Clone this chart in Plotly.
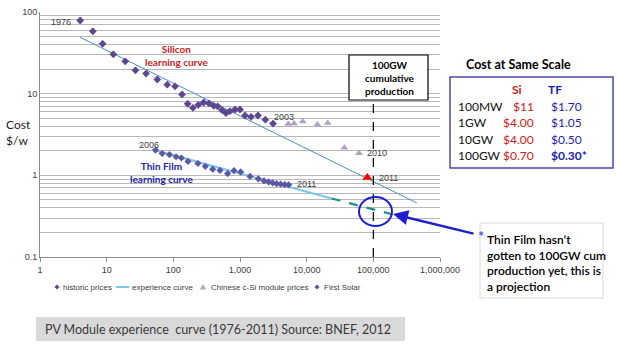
import plotly.graph_objects as go

# ---------------- data ----------------
si_x = [4, 6.2, 8.7, 12.6, 19, 27, 39, 57.5, 81, 106, 135, 164, 197, 237, 285, 343,
        403, 462, 537, 617, 708, 841, 1000, 1189, 1462, 1862, 2400, 3130]
si_y = [78.7, 58, 40.8, 30.3, 24.9, 19.3, 17.6, 14.9, 12.9, 12.3, 9.8, 7.5, 6.7, 7.3,
        7.8, 7.6, 7.1, 7.0, 6.3, 5.8, 6.1, 6.4, 6.4, 5.4, 5.2, 5.4, 4.8, 4.3]

si_curve_x = [4, 447000]
si_curve_y = [49, 0.46]

cn_x = [5300, 6460, 8710, 14500, 20650, 36700, 61000]
cn_y = [4.25, 4.3, 4.57, 4.2, 4.37, 2.17, 1.87]

cn2011_x = [81300]
cn2011_y = [0.94]

fs_x = [54, 68, 87.5, 110, 132, 166, 234, 302, 389, 501, 653, 813, 1023, 1413, 1884,
        2290, 2690, 3090, 3550, 4070, 4680, 5370]
fs_y = [2.04, 1.85, 1.79, 1.69, 1.63, 1.48, 1.40, 1.29, 1.19, 1.15, 1.05, 1.14, 1.10,
        0.97, 0.905, 0.857, 0.83, 0.81, 0.79, 0.78, 0.77, 0.765]

tf_curve_x = [54, 23700]
tf_curve_y = [2.02, 0.52]
tf_proj_x = [23700, 190000]
tf_proj_y = [0.52, 0.334]

scale_marker_x = 100000  # 100GW cumulative production

x_ticks = [1, 10, 100, 1000, 10000, 100000, 1000000]
x_ticktext = ["1", "10", "100", "1,000", "10,000", "100,000", "1,000,000"]
y_decades = [0.1, 1, 10, 100]
y_decade_text = ["0.1", "1", "10", "100"]

table_scale = ["100MW", "1GW", "10GW", "100GW"]
table_si = ["$11", "$4.00", "$4.00", "$0.70"]
table_tf = ["$1.70", "$1.05", "$0.50", "<b>$0.30*</b>"]

# ---------------- layout geometry ----------------
W, H = 618, 352
L, R, T, B = 40, 440, 12, 257


def px(x):
    return (x - L) / (R - L)


def py(y):
    return (B - y) / (B - T)


# grid values: all 1..9 per decade
y_grid = []
y_gridtext = []
for d in [0.1, 1, 10]:
    for k in range(1, 10):
        v = round(d * k, 6)
        y_grid.append(v)
        y_gridtext.append(y_decade_text[y_decades.index(v)] if v in y_decades else "")
y_grid.append(100)
y_gridtext.append("100")

PURPLE = "#5e4790"
FS_COL = "#5b58a6"
TRI = "#b3a2c7"
LINE_BLUE = "#4a90c0"
TF_LIGHT = "#7cc8e8"
TF_DASH = "#1f8f8a"
RED = "#cc1a1a"
BLUE = "#2323a8"
GRAY_TXT = "#404040"

fig = go.Figure()

fig.add_trace(go.Scatter(x=si_curve_x, y=si_curve_y, mode="lines",
                         line=dict(color=LINE_BLUE, width=1), showlegend=False))
fig.add_trace(go.Scatter(x=tf_curve_x, y=tf_curve_y, mode="lines",
                         line=dict(color=TF_LIGHT, width=2.2), showlegend=False))
fig.add_trace(go.Scatter(x=tf_proj_x, y=tf_proj_y, mode="lines",
                         line=dict(color=TF_DASH, width=2.2, dash="dash"), showlegend=False))
fig.add_trace(go.Scatter(x=si_x, y=si_y, mode="markers",
                         marker=dict(symbol="diamond", size=6, color=PURPLE),
                         showlegend=False))
fig.add_trace(go.Scatter(x=cn_x, y=cn_y, mode="markers",
                         marker=dict(symbol="triangle-up", size=7, color=TRI),
                         showlegend=False))
fig.add_trace(go.Scatter(x=cn2011_x, y=cn2011_y, mode="markers",
                         marker=dict(symbol="triangle-up", size=9, color="#ff0000"),
                         showlegend=False))
fig.add_trace(go.Scatter(x=fs_x, y=fs_y, mode="markers",
                         marker=dict(symbol="diamond", size=5.5, color=FS_COL),
                         showlegend=False))

shapes = []
annotations = []


def text(xp, yp, s, font, xanchor="center", yanchor="middle", align="center"):
    annotations.append(dict(xref="paper", yref="paper", x=px(xp), y=py(yp), text=s,
                            showarrow=False, font=font, xanchor=xanchor,
                            yanchor=yanchor, align=align))


# 100GW vertical dashed line
shapes.append(dict(type="line", xref="x", yref="paper", x0=scale_marker_x,
                   x1=scale_marker_x, y0=0, y1=py(100),
                   line=dict(color="black", width=1.2, dash="dash"), layer="above"))
# 100GW box
shapes.append(dict(type="rect", xref="paper", yref="paper", x0=px(349), x1=px(428),
                   y0=py(100), y1=py(55), fillcolor="white",
                   line=dict(color="black", width=1.2), layer="above"))
text(390, 78, "<b>100GW<br>cumulative<br>production</b>",
     dict(family="Lato", size=10, color="black"))

# blue circle + arrow
shapes.append(dict(type="circle", xref="paper", yref="paper", x0=px(359), x1=px(392),
                   y0=py(226), y1=py(197), line=dict(color="#1f1fd0", width=2),
                   layer="above"))
annotations.append(dict(xref="paper", yref="paper", x=px(393), y=py(214), text="",
                        showarrow=True, ax=82, ay=20, arrowhead=2, arrowsize=1.2,
                        arrowwidth=2.5, arrowcolor="#1f1fd0"))

# note box
shapes.append(dict(type="rect", xref="paper", yref="paper", x0=px(480), x1=px(603),
                   y0=py(298), y1=py(223), fillcolor="white",
                   line=dict(color="#d8d8d8", width=1)))
text(476, 236, "*", dict(family="Lato", size=15, color="#1f1fd0"), xanchor="left")
text(485, 263, "Thin Film hasn’t<br>gotten to 100GW cum<br>production yet, this is<br>a projection",
     dict(family="Lato", size=12, color="#000000", weight=600), xanchor="left", align="left")

# curve labels
text(176, 55, "<b>Silicon<br>learning curve</b>", dict(family="Lato", size=10, color=RED))
text(161, 172, "<b>Thin Film<br>learning curve</b>", dict(family="Lato", size=10, color=BLUE))

# year labels
for s, pos in [("1976", (61, 22)), ("2006", (149, 145)), ("2003", (284, 117)),
               ("2010", (377, 153)), ("2011", (388, 178)), ("2011", (306, 184))]:
    text(pos[0], pos[1], s, dict(family="Liberation Sans", size=9, color=GRAY_TXT))

# y axis title
text(4, 132, "Cost<br>$/w", dict(family="Lato", size=12, color="#222222"),
     xanchor="left", align="left")

# table
text(518, 64, "<b>Cost at Same Scale</b>", dict(family="Lato", size=12.5, color="black"))
shapes.append(dict(type="rect", xref="paper", yref="paper", x0=px(450), x1=px(613),
                   y0=py(168), y1=py(77), line=dict(color="#4a4aa8", width=1.5)))
text(517, 89, "<b>Si</b>", dict(family="Lato", size=12, color=RED))
text(555, 89, "<b>TF</b>", dict(family="Lato", size=12, color=BLUE))
row_y = [106, 122, 139, 155]
for i in range(4):
    text(456, row_y[i], table_scale[i], dict(family="Lato", size=12, color="#111111"),
         xanchor="left")
    text(536, row_y[i], table_si[i], dict(family="Lato", size=12, color=RED),
         xanchor="right")
    text(549, row_y[i], table_tf[i], dict(family="Lato", size=12, color=BLUE),
         xanchor="left")

# custom legend
LEG_Y = 287
leg_font = dict(family="Liberation Sans", size=8, color=GRAY_TXT)


def diamond(cx, cy, r, color):
    p = (f"M {px(cx)} {py(cy - r)} L {px(cx + r)} {py(cy)} L {px(cx)} {py(cy + r)} "
         f"L {px(cx - r)} {py(cy)} Z")
    return dict(type="path", xref="paper", yref="paper", path=p, fillcolor=color,
                line=dict(width=0))


def triangle(cx, cy, r, color):
    p = (f"M {px(cx)} {py(cy - r)} L {px(cx + r)} {py(cy + r * 0.8)} "
         f"L {px(cx - r)} {py(cy + r * 0.8)} Z")
    return dict(type="path", xref="paper", yref="paper", path=p, fillcolor=color,
                line=dict(width=0))


shapes.append(diamond(57, LEG_Y, 2.6, PURPLE))
shapes.append(dict(type="line", xref="paper", yref="paper", x0=px(116), x1=px(129),
                   y0=py(LEG_Y), y1=py(LEG_Y), line=dict(color=TF_LIGHT, width=2)))
shapes.append(triangle(203, LEG_Y, 3, TRI))
shapes.append(diamond(317, LEG_Y, 2.6, FS_COL))
for s, x0 in [("historic prices", 61), ("experience curve", 130),
              ("Chinese c-Si module prices", 209), ("First Solar", 322)]:
    text(x0, LEG_Y, s, leg_font, xanchor="left")

# caption
shapes.append(dict(type="rect", xref="paper", yref="paper", x0=px(36), x1=px(405),
                   y0=py(341), y1=py(317), fillcolor="#d9d9d9", line=dict(width=0)))
text(43, 329, "PV Module experience  curve (1976-2011) Source: BNEF, 2012",
     dict(family="Lato", size=12.5, color="#3a3a3a"), xanchor="left")

fig.update_layout(
    width=W, height=H,
    margin=dict(l=L, r=W - R, t=T, b=H - B, pad=0),
    paper_bgcolor="white", plot_bgcolor="white",
    showlegend=False,
    shapes=shapes, annotations=annotations,
    xaxis=dict(type="log", range=[0, 6], tickvals=x_ticks, ticktext=x_ticktext,
               automargin=False,
               showgrid=False, zeroline=False, showline=True, linecolor="#8c8c8c",
               linewidth=1, ticks="outside", ticklen=4, tickcolor="#8c8c8c",
               tickfont=dict(family="Liberation Sans", size=9, color=GRAY_TXT)),
    yaxis=dict(type="log", range=[-1, 2], tickvals=y_grid, ticktext=y_gridtext,
               automargin=False,
               showgrid=True, gridcolor="#b8b8b8", gridwidth=1.2, zeroline=False,
               showline=True, linecolor="#8c8c8c", linewidth=1, ticks="",
               tickfont=dict(family="Liberation Sans", size=9, color=GRAY_TXT)),
)

fig.write_html("out.html")
